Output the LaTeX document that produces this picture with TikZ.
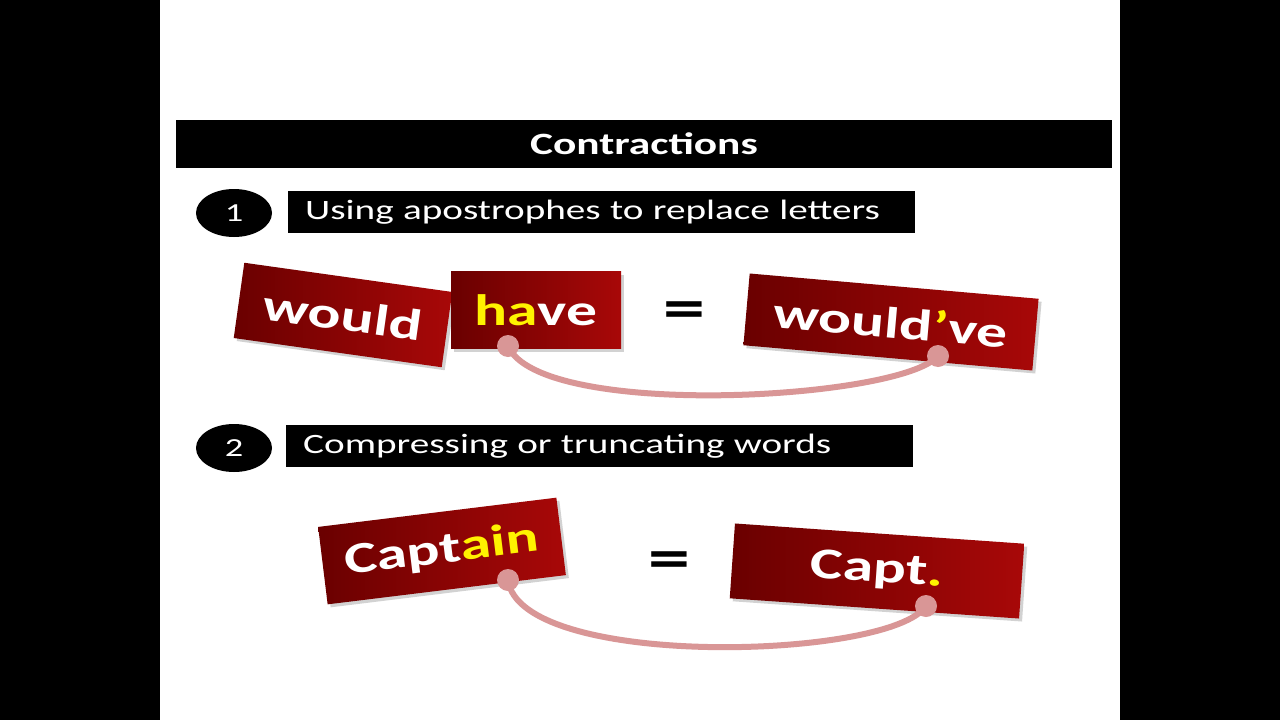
\documentclass[tikz,border=0pt]{standalone}
\usepackage{fontspec}
\setmainfont{Carlito}[FakeStretch=1.4]
\usetikzlibrary{shadows,shapes.geometric}
\definecolor{dred}{HTML}{6A0000}
\definecolor{lred}{HTML}{A80808}
\definecolor{pinkc}{HTML}{D99696}
\definecolor{yel}{HTML}{FFF200}
\tikzset{
 wordbox/.style={draw=none,left color=dred,right color=lred,inner sep=0pt,text=white,
   font=\bfseries\fontsize{44}{44}\selectfont,drop shadow={shadow xshift=3pt,shadow yshift=-3pt,opacity=0.35}},
 numc/.style={ellipse,fill=black,text=white,minimum width=76pt,minimum height=48pt,inner sep=0pt,font=\fontsize{26}{26}\selectfont},
 hbar/.style={fill=black,text=white,anchor=west,inner sep=0pt,minimum height=42pt,minimum width=627pt,text width=627pt,align=left,font=\fontsize{28}{28}\selectfont},
 link/.style={pinkc,line width=6pt},
 dotc/.style={circle,fill=pinkc,minimum size=22pt,inner sep=0pt},
 eqs/.style={font=\bfseries\fontsize{60}{60}\selectfont}
}
\begin{document}
\begin{tikzpicture}[x=1pt,y=-1pt]
\useasboundingbox (0,0) rectangle (1280,720);
\fill[black] (0,0) rectangle (160,720);
\fill[black] (1120,0) rectangle (1280,720);
\fill[white] (160,0) rectangle (1120,720);
\node[fill=black,text=white,minimum width=936pt,minimum height=48pt,inner sep=0pt,font=\bfseries\fontsize{31}{31}\selectfont] (title) at (644,144) {Contractions};
\node[numc] (n1) at (234,213) {1};
\node[hbar] (h1) at (288,212) {\hspace*{17pt}Using apostrophes to replace letters};
\node[numc] (n2) at (234,448) {2};
\node[hbar] (h2) at (286,446) {\hspace*{17pt}Compressing or truncating words};
% row 1
\node[wordbox,minimum width=210pt,minimum height=76pt,rotate=-8] (w1) at (343,315) {would};
\node[wordbox,minimum width=170pt,minimum height=77pt] (w2) at (536,310) {\textcolor{yel}{ha}ve};
\node[eqs] (eq1) at (684,315) {=};
\node[wordbox,minimum width=290pt,minimum height=72pt,rotate=-5] (w3) at (891,322) {would\textcolor{yel}{’}ve};
\coordinate (a1) at (508,346);
\coordinate (b1) at (938,356);
\draw[link] (a1) .. controls (540,420) and (900,400) .. (b1);
\node[dotc] at (a1) {};
\node[dotc] at (b1) {};
% row 2
\node[wordbox,minimum width=240pt,minimum height=78pt,rotate=7] (w4) at (442,551) {Capt\textcolor{yel}{ain}};
\node[eqs] (eq2) at (669,565) {=};
\node[wordbox,minimum width=290pt,minimum height=75pt,rotate=-4] (w5) at (877,571) {Capt\textcolor{yel}{.}};
\coordinate (a2) at (508,580);
\coordinate (b2) at (926,606);
\draw[link] (a2) .. controls (520,670) and (890,660) .. (b2);
\node[dotc] at (a2) {};
\node[dotc] at (b2) {};
\end{tikzpicture}
\end{document}
